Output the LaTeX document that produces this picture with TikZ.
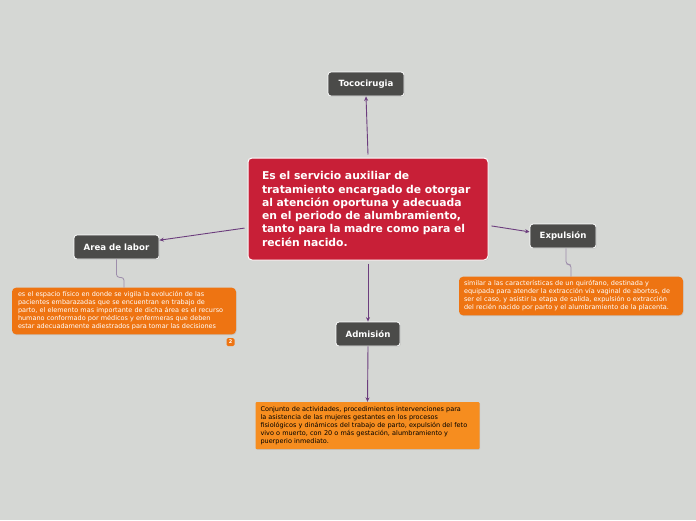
\documentclass[tikz,border=0pt]{standalone}
\usepackage{fontspec}
\setmainfont{DejaVu Sans}
\usetikzlibrary{arrows.meta,shadows}
\definecolor{fondo}{HTML}{D5D7D4}
\definecolor{rojo}{HTML}{C81F37}
\definecolor{gris}{HTML}{4B4B49}
\definecolor{naranja}{HTML}{EE7412}
\definecolor{naranjac}{HTML}{F68D1F}
\definecolor{morado}{HTML}{6C3D7D}
\definecolor{lila}{HTML}{9D8DAB}
\begin{document}
\begin{tikzpicture}[x=1pt, y=-1pt,
    tema/.style={fill=gris, draw=white, line width=0.8pt, rounded corners=3pt, text=white,
      font=\fontsize{8.6}{10}\selectfont\bfseries, minimum height=24pt, inner xsep=0pt,
      drop shadow={opacity=0.25, shadow xshift=0.8pt, shadow yshift=-0.8pt}},
    nota/.style={fill=naranja, rounded corners=4pt, text=white, align=left,
      font=\fontsize{6.5}{8}\selectfont, inner xsep=5pt, inner ysep=4pt, text width=214pt,
      drop shadow={opacity=0.2, shadow xshift=0.6pt, shadow yshift=-0.8pt}},
    flecha/.style={morado, line width=0.9pt, -{Stealth[length=4.5pt, width=4pt]}},
    codo/.style={lila, line width=0.8pt, rounded corners=3pt}]
  \fill[fondo] (0,0) rectangle (696,520);
  \useasboundingbox (0,0) rectangle (696,520);
  \node[fill=rojo, draw=white, line width=1pt, rounded corners=4pt, text=white, align=left,
    font=\fontsize{10.8}{13.3}\selectfont\bfseries, text width=212pt, inner xsep=14pt,
    minimum height=102pt, drop shadow={opacity=0.25, shadow xshift=0.8pt, shadow yshift=-0.8pt}]
    (main) at (368,209) {Es el servicio auxiliar de\\tratamiento encargado de otorgar\\al atención oportuna y adecuada\\en el periodo de alumbramiento,\\tanto para la madre como para el\\recién nacido.};
  \node[tema, minimum width=76pt] (toco) at (366,84) {Tococirugia};
  \node[tema, minimum width=85pt] (area) at (116.5,247) {Area de labor};
  \node[tema, minimum width=66pt] (expul) at (563,236) {Expulsión};
  \node[tema, minimum width=64pt] (admi) at (368,334) {Admisión};
  \node[nota, inner xsep=6pt, text width=212pt, minimum height=46pt] (areatxt) at (124,311) {es el espacio físico en donde se vigila la evolución de las\\pacientes embarazadas que se encuentran en trabajo de\\parto, el elemento mas importante de dicha área es el recurso\\humano conformado por médicos y enfermeras que deben\\estar adecuadamente adiestrados para tomar las decisiones};
  \node[nota, minimum height=38pt] (expultxt) at (571,296) {similar a las características de un quirófano, destinada y\\equipada para atender la extracción vía vaginal de abortos, de\\ser el caso, y asistir la etapa de salida, expulsión o extracción\\del recién nacido por parto y el alumbramiento de la placenta.};
  \node[nota, fill=naranjac, text=black, rounded corners=1pt, minimum height=47pt] (admitxt) at (367.5,425.5) {Conjunto de actividades, procedimientos intervenciones para\\la asistencia de las mujeres gestantes en los procesos\\fisiológicos y dinámicos del trabajo de parto, expulsión del feto\\vivo o muerto, con 20 o más gestación, alumbramiento y\\puerperio inmediato.};
  \node[fill=naranja, rounded corners=1.5pt, text=white, font=\fontsize{5}{5}\selectfont\bfseries,
    minimum size=8pt, inner sep=0pt] (badge) at (230.5,342) {2};
  \draw[flecha] ([yshift=3pt]main.north) -- (toco.south);
  \draw[flecha] ([xshift=-3pt]main.189) -- (area.9);
  \draw[flecha] ([xshift=3pt]main.-8) -- (expul.173);
  \draw[flecha] ([yshift=-3pt]main.south) -- (admi.north);
  \draw[flecha] (admi.south) -- (admitxt.north);
  \draw[codo] (area.south) -- ++(0,18) -| (areatxt.north);
  \draw[codo] ([xshift=3pt]expul.south) -- ++(0,16) -| (expultxt.north);
\end{tikzpicture}
\end{document}
